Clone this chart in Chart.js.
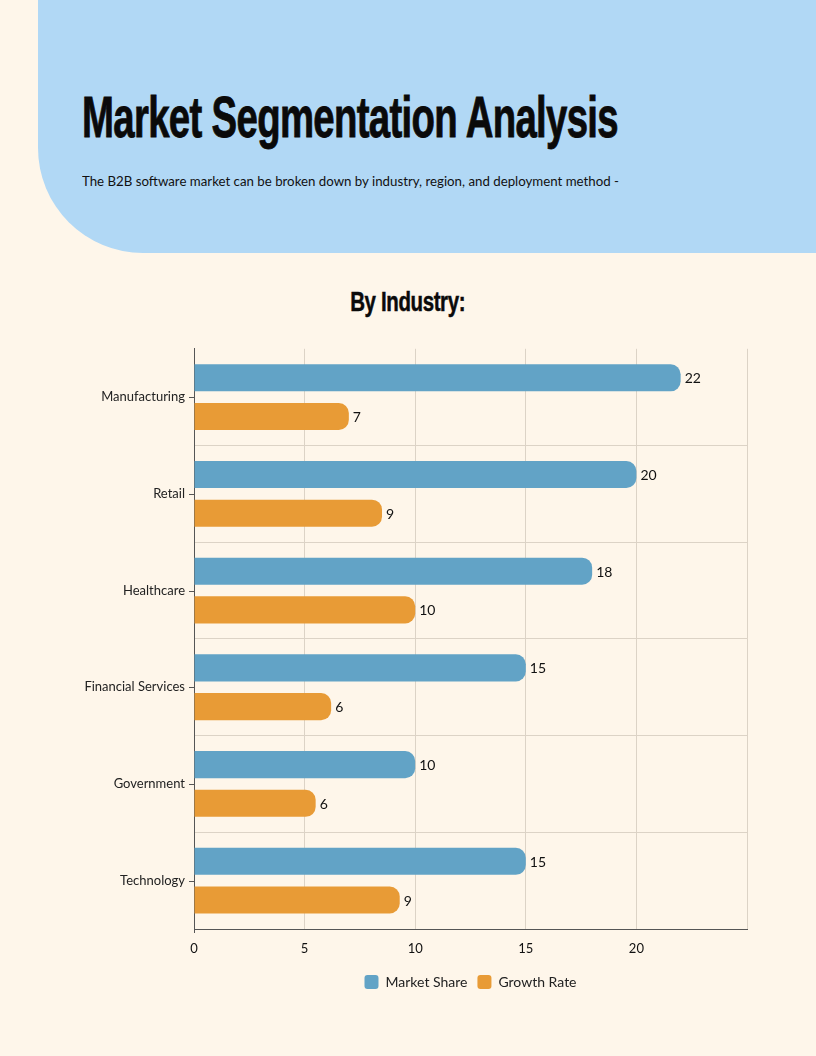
<!DOCTYPE html>
<html>
<head>
<meta charset="utf-8">
<script src="https://cdn.jsdelivr.net/npm/chart.js@4"></script>
<style>
  html, body { margin: 0; padding: 0; }
  body { width: 816px; height: 1056px; background: #FEF6EA; position: relative; overflow: hidden; font-family: Lato, "Open Sans", sans-serif; }
  #header { position: absolute; left: 38px; top: 0; width: 778px; height: 253px; background: #B1D8F5; border-bottom-left-radius: 105px; }
  #title { position: absolute; left: 82px; top: 86px; margin: 0; font-family: "Liberation Sans Narrow", "Liberation Sans", sans-serif; font-weight: 700; font-size: 58px; line-height: 62px; color: #0a0a0a; white-space: nowrap; transform-origin: left top; letter-spacing: -1px; -webkit-text-stroke: 0.9px #0a0a0a; }
  #sub { position: absolute; left: 82px; top: 173px; margin: 0; font-size: 13.5px; color: #111; white-space: nowrap; transform-origin: left top; }
  #h2 { position: absolute; left: 0; width: 816px; top: 286px; margin: 0; text-align: center; font-family: "Liberation Sans Narrow", "Liberation Sans", sans-serif; font-weight: 700; font-size: 28px; line-height: 32px; color: #0a0a0a; }
  #h2 span { display: inline-block; transform-origin: center top; letter-spacing: -0.5px; -webkit-text-stroke: 0.5px #0a0a0a; }
  #wrap { position: absolute; left: 0; top: 332px; width: 816px; height: 688px; }
</style>
</head>
<body>
<div id="header"></div>
<h1 id="title">Market Segmentation Analysis</h1>
<p id="sub">The B2B software market can be broken down by industry, region, and deployment method -</p>
<h2 id="h2"><span id="h2s">By Industry:</span></h2>
<div id="wrap"><canvas id="c" width="816" height="688"></canvas></div>
<script>
const categories = ['Manufacturing', 'Retail', 'Healthcare', 'Financial Services', 'Government', 'Technology'];
const marketShare = [22, 20, 18, 15, 10, 15];
const growthRate = [7, 8.5, 10, 6.2, 5.5, 9.3];
const seriesNames = ['Market Share', 'Growth Rate'];
const xTicks = [0, 5, 10, 15, 20];

function fitWidth(el, w) {
  const cur = el.getBoundingClientRect().width;
  el.style.transform = 'scaleX(' + (w / cur) + ')';
}
fitWidth(document.getElementById('title'), 536);
fitWidth(document.getElementById('sub'), 537);
fitWidth(document.getElementById('h2s'), 115);

const valueLabels = {
  id: 'valueLabels',
  afterDatasetsDraw(chart) {
    const ctx = chart.ctx;
    ctx.save();
    ctx.font = '14px Lato, "Open Sans", sans-serif';
    ctx.fillStyle = '#111';
    ctx.textAlign = 'left';
    ctx.textBaseline = 'middle';
    chart.data.datasets.forEach((ds, di) => {
      chart.getDatasetMeta(di).data.forEach((bar, i) => {
        ctx.fillText(String(Math.round(ds.data[i])), bar.x + 4, bar.y + 1);
      });
    });
    ctx.restore();
  }
};

const yTickMarks = {
  id: 'yTickMarks',
  afterDraw(chart) {
    const y = chart.scales.y;
    const ctx = chart.ctx;
    ctx.save();
    ctx.strokeStyle = '#555';
    ctx.lineWidth = 1;
    y.ticks.forEach((t, i) => {
      const py = Math.round(y.getPixelForValue(i)) + 0.5;
      ctx.beginPath();
      ctx.moveTo(y.right - 5, py);
      ctx.lineTo(y.right, py);
      ctx.stroke();
    });
    ctx.beginPath();
    ctx.moveTo(y.right + 0.5, chart.chartArea.bottom);
    ctx.lineTo(y.right + 0.5, chart.chartArea.bottom + 4);
    ctx.stroke();
    ctx.restore();
  }
};

new Chart(document.getElementById('c'), {
  type: 'bar',
  data: {
    labels: categories,
    datasets: [
      { label: seriesNames[0], data: marketShare, backgroundColor: '#62A3C6', borderRadius: 10, borderSkipped: 'start', categoryPercentage: 0.8, barPercentage: 0.7 },
      { label: seriesNames[1], data: growthRate, backgroundColor: '#E89B36', borderRadius: 10, borderSkipped: 'start', categoryPercentage: 0.8, barPercentage: 0.7 }
    ]
  },
  options: {
    indexAxis: 'y',
    responsive: false,
    animation: false,
    devicePixelRatio: 1,
    layout: { padding: { top: 0, right: 69, bottom: 21, left: 0 } },
    plugins: {
      tooltip: { enabled: false },
      legend: {
        position: 'bottom',
        fullSize: false,
        labels: {
          boxWidth: 14, boxHeight: 14, padding: 10, useBorderRadius: true, borderRadius: 3,
          color: '#222', font: { family: 'Lato, "Open Sans", sans-serif', size: 14 }
        }
      }
    },
    scales: {
      x: {
        min: 0, max: 25,
        afterBuildTicks(scale) { scale.ticks = [0, 5, 10, 15, 20, 25].map(v => ({ value: v })); },
        ticks: {
          color: '#111', padding: 12,
          font: { family: 'Lato, "Open Sans", sans-serif', size: 13 },
          callback: (v) => xTicks.includes(v) ? String(v) : ''
        },
        grid: { color: '#DCD3C6', drawTicks: false },
        border: { display: true, color: '#555' },
        afterFit(scale) { scale.height = 36; }
      },
      y: {
        ticks: { color: '#222', padding: 9, font: { family: 'Lato, "Open Sans", sans-serif', size: 13 } },
        grid: { offset: true, drawTicks: false, color: (c) => c.index === 0 ? 'rgba(0,0,0,0)' : '#DCD3C6' },
        border: { display: true, color: '#555' },
        afterFit(scale) { scale.width = 194; }
      }
    }
  },
  plugins: [valueLabels, yTickMarks]
});
</script>
</body>
</html>
